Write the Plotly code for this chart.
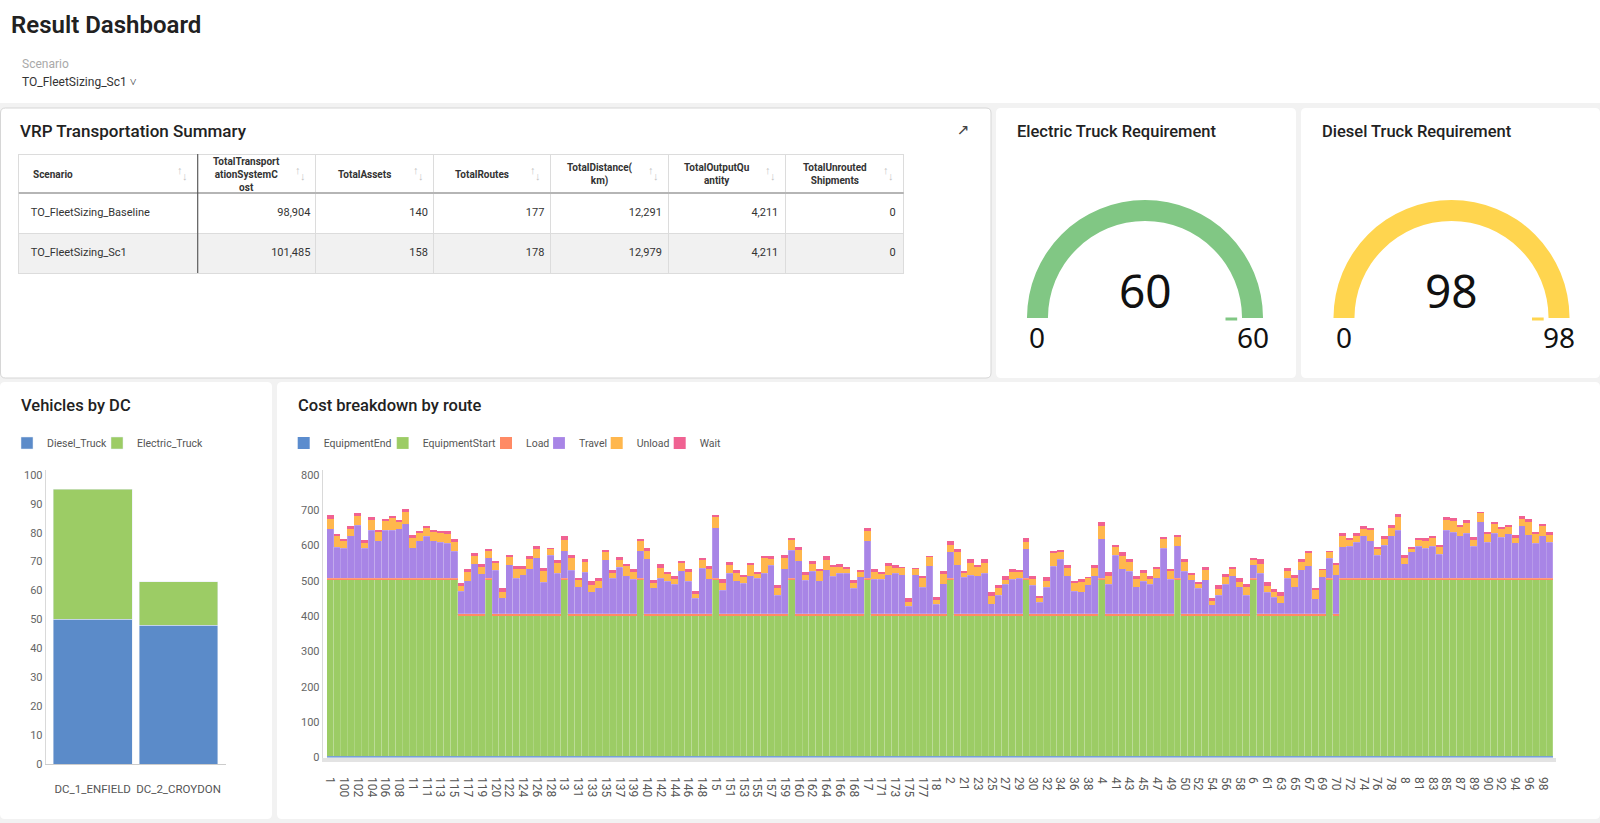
import plotly.graph_objects as go

W, H = 1600, 823


def X(px):
    return px / W


def Y(py):
    return 1 - py / H


# ---------------- data ----------------
table_headers = ["Scenario", "TotalTransport<br>ationSystemC<br>ost", "TotalAssets", "TotalRoutes",
                 "TotalDistance(<br>km)", "TotalOutputQu<br>antity", "TotalUnrouted<br>Shipments"]
scenarios = ["TO_FleetSizing_Baseline", "TO_FleetSizing_Sc1"]
total_cost = [98904, 101485]
total_assets = [140, 158]
total_routes = [177, 178]
total_distance = [12291, 12979]
total_output_qty = [4211, 4211]
total_unrouted = [0, 0]

electric_trucks = 60
diesel_trucks = 98

dcs = ["DC_1_ENFIELD", "DC_2_CROYDON"]
dc_diesel = [50, 48]
dc_electric = [45, 15]

routes = ["1", "10", "100", "101", "102", "103", "104", "105", "106", "107", "108", "109", "11", "110", "111",
          "112", "113", "114", "115", "116", "117", "118", "119", "12", "120", "121", "122", "123", "124", "125",
          "126", "127", "128", "129", "13", "130", "131", "132", "133", "134", "135", "136", "137", "138", "139",
          "14", "140", "141", "142", "143", "144", "145", "146", "147", "148", "149", "15", "150", "151", "152",
          "153", "154", "155", "156", "157", "158", "159", "16", "160", "161", "162", "163", "164", "165", "166",
          "167", "168", "169", "17", "170", "171", "172", "173", "174", "175", "176", "177", "178", "18", "19",
          "2", "20", "21", "22", "23", "24", "25", "26", "27", "28", "29", "3", "30", "31", "32", "33", "34",
          "35", "36", "37", "38", "39", "4", "40", "41", "42", "43", "44", "45", "46", "47", "48", "49", "5",
          "50", "51", "52", "53", "54", "55", "56", "57", "58", "59", "6", "60", "61", "62", "63", "64", "65",
          "66", "67", "68", "69", "7", "70", "71", "72", "73", "74", "75", "76", "77", "78", "79", "8", "80",
          "81", "82", "83", "84", "85", "86", "87", "88", "89", "9", "90", "91", "92", "93", "94", "95", "96",
          "97", "98", "99"]

equipment_end = [3, 3, 3, 3, 3, 3, 3, 3, 3, 3, 3, 3, 3, 3, 3, 3, 3, 3, 3, 3, 3, 3, 3, 3, 3, 3, 3, 3, 3, 3,
                 3, 3, 3, 3, 3, 3, 3, 3, 3, 3, 3, 3, 3, 3, 3, 3, 3, 3, 3, 3, 3, 3, 3, 3, 3, 3, 3, 3, 3, 3,
                 3, 3, 3, 3, 3, 3, 3, 3, 3, 3, 3, 3, 3, 3, 3, 3, 3, 3, 3, 3, 3, 3, 3, 3, 3, 3, 3, 3, 3, 3,
                 3, 3, 3, 3, 3, 3, 3, 3, 3, 3, 3, 3, 3, 3, 3, 3, 3, 3, 3, 3, 3, 3, 3, 3, 3, 3, 3, 3, 3, 3,
                 3, 3, 3, 3, 3, 3, 3, 3, 3, 3, 3, 3, 3, 3, 3, 3, 3, 3, 3, 3, 3, 3, 3, 3, 3, 3, 3, 3, 3, 3,
                 3, 3, 3, 3, 3, 3, 3, 3, 3, 3, 3, 3, 3, 3, 3, 3, 3, 3, 3, 3, 3, 3, 3, 3, 3, 3, 3, 3]

equipment_start = [500, 500, 500, 500, 500, 500, 500, 500, 500, 500, 500, 500, 500, 500, 500, 500, 500, 500, 500,
                   400, 400, 400, 400, 500, 400, 400, 400, 400, 400, 400, 400, 400, 400, 400, 500, 400, 400, 400,
                   400, 400, 400, 400, 400, 400, 400, 500, 400, 400, 400, 400, 400, 400, 400, 400, 400, 400, 500,
                   400, 400, 400, 400, 400, 400, 400, 400, 400, 400, 500, 400, 400, 400, 400, 400, 400, 400, 400,
                   400, 400, 500, 400, 400, 400, 400, 400, 400, 400, 400, 400, 400, 400, 500, 400, 400, 400, 400,
                   400, 400, 400, 400, 400, 400, 500, 400, 400, 400, 400, 400, 400, 400, 400, 400, 400, 500, 400,
                   400, 400, 400, 400, 400, 400, 400, 400, 400, 500, 400, 400, 400, 400, 400, 400, 400, 400, 400,
                   400, 500, 400, 400, 400, 400, 400, 400, 400, 400, 400, 400, 500, 400, 500, 500, 500, 500, 500,
                   500, 500, 500, 500, 500, 500, 500, 500, 500, 500, 500, 500, 500, 500, 500, 500, 500, 500, 500,
                   500, 500, 500, 500, 500, 500, 500]

load = [4, 4, 4, 4, 4, 4, 4, 4, 4, 4, 4, 4, 4, 4, 4, 4, 4, 4, 4, 4, 4, 4, 4, 4, 4, 4, 4, 4, 4, 4,
        4, 4, 4, 4, 4, 4, 4, 4, 4, 4, 4, 4, 4, 4, 4, 4, 4, 4, 4, 4, 4, 4, 4, 4, 4, 4, 4, 4, 4, 4,
        4, 4, 4, 4, 4, 4, 4, 4, 4, 4, 4, 4, 4, 4, 4, 4, 4, 4, 4, 4, 4, 4, 4, 4, 4, 4, 4, 4, 4, 4,
        4, 4, 4, 4, 4, 4, 4, 4, 4, 4, 4, 4, 4, 4, 4, 4, 4, 4, 4, 4, 4, 4, 4, 4, 4, 4, 4, 4, 4, 4,
        4, 4, 4, 4, 4, 4, 4, 4, 4, 4, 4, 4, 4, 4, 4, 4, 4, 4, 4, 4, 4, 4, 4, 4, 4, 4, 4, 4, 4, 4,
        4, 4, 4, 4, 4, 4, 4, 4, 4, 4, 4, 4, 4, 4, 4, 4, 4, 4, 4, 4, 4, 4, 4, 4, 4, 4, 4, 4]

travel = [140, 89, 85, 121, 151, 85, 136, 106, 136, 136,
          140, 155, 87, 107, 119, 106, 102, 100, 77, 64,
          94, 142, 113, 58, 123, 46, 139, 100, 111, 127,
          159, 89, 165, 114, 79, 123, 77, 117, 62, 74,
          153, 100, 131, 108, 97, 79, 156, 73, 100, 92,
          84, 122, 92, 44, 129, 99, 144, 66, 114, 94,
          87, 108, 100, 115, 137, 52, 127, 80, 150, 95,
          120, 93, 125, 106, 115, 115, 72, 105, 107, 97,
          97, 111, 115, 111, 21, 111, 75, 136, 27, 85,
          75, 139, 103, 109, 108, 115, 29, 52, 84, 98,
          100, 84, 80, 32, 75, 134, 155, 108, 64, 62,
          82, 108, 113, 83, 165, 128, 120, 77, 92, 84,
          102, 186, 98, 93, 120, 96, 72, 96, 26, 53,
          83, 108, 76, 53, 39, 115, 61, 47, 31, 101,
          76, 125, 136, 42, 105, 57, 110, 90, 91, 103,
          121, 106, 65, 94, 121, 136, 41, 76, 91, 85,
          91, 69, 136, 131, 121, 128, 91, 161, 103, 128,
          116, 126, 101, 149, 124, 100, 121, 103]

unload = [29, 30, 21, 20, 26, 15, 30, 26, 28, 34,
          20, 34, 27, 21, 25, 26, 27, 25, 26, 15,
          24, 21, 19, 20, 23, 15, 24, 27, 16, 29,
          25, 32, 19, 30, 31, 35, 19, 30, 20, 20,
          24, 16, 21, 26, 21, 26, 23, 15, 30, 20,
          15, 21, 26, 12, 24, 27, 31, 22, 25, 22,
          19, 30, 15, 42, 19, 20, 32, 29, 31, 16,
          22, 27, 28, 26, 18, 14, 16, 15, 26, 22,
          18, 25, 14, 19, 11, 16, 26, 25, 11, 27,
          19, 36, 15, 35, 27, 29, 20, 22, 12, 20,
          20, 20, 17, 14, 19, 40, 21, 22, 22, 28,
          20, 21, 35, 25, 26, 36, 29, 20, 22, 15,
          26, 26, 23, 26, 27, 13, 15, 27, 9, 17,
          22, 20, 14, 23, 12, 27, 18, 14, 20, 20,
          24, 24, 35, 25, 20, 19, 29, 31, 18, 18,
          19, 31, 20, 19, 23, 38, 16, 6, 17, 22,
          23, 19, 30, 32, 26, 30, 18, 25, 22, 26,
          26, 21, 14, 20, 38, 25, 29, 21]

wait = [12, 8, 7, 8, 7, 8, 7, 6, 2, 7,
        6, 8, 8, 7, 5, 5, 5, 8, 8, 7,
        8, 9, 8, 6, 3, 12, 2, 7, 8, 7,
        8, 8, 2, 7, 11, 8, 6, 9, 11, 7,
        2, 7, 9, 7, 8, 7, 6, 8, 10, 7,
        7, 7, 8, 9, 3, 8, 6, 10, 7, 7,
        2, 6, 2, 7, 8, 9, 8, 5, 7, 6,
        6, 6, 10, 7, 9, 2, 7, 2, 11, 9,
        2, 8, 9, 2, 12, 2, 7, 2, 9, 10,
        12, 9, 4, 12, 3, 12, 12, 7, 12, 8,
        3, 11, 10, 2, 10, 5, 2, 8, 8, 8,
        2, 9, 11, 9, 2, 11, 5, 10, 10, 7,
        3, 3, 7, 2, 8, 6, 2, 10, 10, 10,
        7, 2, 11, 8, 8, 12, 11, 10, 10, 9,
        10, 5, 6, 7, 1, 1, 5, 8, 6, 7,
        8, 7, 5, 6, 6, 8, 8, 7, 7, 7,
        7, 7, 7, 8, 3, 7, 7, 2, 6, 7,
        4, 5, 9, 8, 5, 6, 2, 7]

# name, values, colour, separator line, legend id, legend text x (px)
cost_series = [
    ("EquipmentEnd", equipment_end, "#5B8CCE", False, "legend", 321.7),
    ("EquipmentStart", equipment_start, "#9CCC65", True, "legend3", 420.7),
    ("Load", load, "#FF8A65", False, "legend4", 524),
    ("Travel", travel, "#A885E6", True, "legend5", 577),
    ("Unload", unload, "#FFB74D", False, "legend6", 634.7),
    ("Wait", wait, "#F06292", False, "legend7", 697.7),
]
dc_series = [
    ("Diesel_Truck", dc_diesel, "#5B8BC9", "legend2", 45),
    ("Electric_Truck", dc_electric, "#9CCC65", "legend8", 135),
]

FONT = "Roboto"
fig = go.Figure()

# ---------------- cost breakdown (xaxis / yaxis) ----------------
for name, vals, col, sep, lg, _ in cost_series:
    line = dict(color="rgba(255,255,255,0.35)", width=0.5) if sep else dict(width=0)
    fig.add_trace(go.Bar(
        x=routes, y=vals, name=name, marker=dict(color=col, line=line),
        width=1, xaxis="x", yaxis="y", legend=lg))

# ---------------- vehicles by DC (xaxis2 / yaxis2) ----------------
for name, vals, col, lg, _ in dc_series:
    fig.add_trace(go.Bar(x=dcs, y=vals, name=name, marker=dict(color=col), width=0.917,
                         xaxis="x2", yaxis="y2", legend=lg))


# ---------------- table ----------------
def fmt(v):
    return f"{v:,}"


col_widths = [179, 118, 118, 117, 118, 117, 118]
tbl_left, tbl_top = 18.75, 154
hdr_h, row_h = 39, 40
tbl_right = tbl_left + sum(col_widths)
tbl_bottom = tbl_top + hdr_h + 2 * row_h
cell_values = [scenarios, [fmt(v) for v in total_cost], [fmt(v) for v in total_assets],
               [fmt(v) for v in total_routes], [fmt(v) for v in total_distance],
               [fmt(v) for v in total_output_qty], [fmt(v) for v in total_unrouted]]
empty_cells = [["", ""] for _ in cell_values]

# grid + row fills
fig.add_trace(go.Table(
    domain=dict(x=[X(tbl_left), X(tbl_right)], y=[Y(tbl_bottom + 1), Y(tbl_top)]),
    columnwidth=col_widths,
    header=dict(values=[""] * 7, fill_color="white", line=dict(color="#dcdcdc", width=1), height=hdr_h),
    cells=dict(values=empty_cells, fill_color=[["white", "#f1f1f1"]] * 7,
               line=dict(color="#dcdcdc", width=1), height=row_h),
))
# cell text (vertically centred inside the grid rows)
text_shift = 7
fig.add_trace(go.Table(
    domain=dict(x=[X(tbl_left + 4), X(tbl_right)], y=[Y(tbl_bottom + text_shift + 4), Y(tbl_top + text_shift)]),
    columnwidth=col_widths,
    header=dict(values=[""] * 7, fill_color="rgba(0,0,0,0)", line=dict(color="rgba(0,0,0,0)", width=0),
                height=hdr_h),
    cells=dict(values=cell_values, align=["left"] + ["right"] * 6,
               font=dict(family=FONT, size=11, color="#333333"),
               fill_color="rgba(0,0,0,0)", line=dict(color="rgba(0,0,0,0)", width=0), height=row_h),
))

# ---------------- gauges ----------------
R = 122.9
gauge_base = 318
gauges = [(electric_trucks, "#81C784", 1145), (diesel_trucks, "#FFD54F", 1451.5)]
for val, col, cx in gauges:
    fig.add_trace(go.Indicator(
        mode="gauge", value=val,
        domain=dict(x=[X(cx - R), X(cx + R)], y=[Y(gauge_base), Y(gauge_base - R)]),
        gauge=dict(shape="angular", axis=dict(range=[0, val], visible=False),
                   bar=dict(color=col, thickness=0.683, line=dict(width=0)),
                   bgcolor="rgba(0,0,0,0)", borderwidth=0)))

# ---------------- layout ----------------
shapes = []


def rrect(x0, y0, x1, y1, r, fill, line_color=None, lw=0):
    rx, ry = r / W, r / H
    a0, b0, a1, b1 = X(x0), Y(y0), X(x1), Y(y1)
    path = (f"M{a0 + rx},{b0} L{a1 - rx},{b0} Q{a1},{b0} {a1},{b0 - ry} "
            f"L{a1},{b1 + ry} Q{a1},{b1} {a1 - rx},{b1} L{a0 + rx},{b1} Q{a0},{b1} {a0},{b1 + ry} "
            f"L{a0},{b0 - ry} Q{a0},{b0} {a0 + rx},{b0} Z")
    return dict(type="path", path=path, xref="paper", yref="paper", fillcolor=fill,
                line=dict(color=line_color or fill, width=lw), layer="below")


shapes.append(dict(type="rect", xref="paper", yref="paper", x0=0, x1=1, y0=Y(103), y1=1,
                   fillcolor="white", line=dict(width=0), layer="below"))
shapes.append(rrect(0.5, 108, 991, 378, 5, "white", "#d6d6d6", 1))
shapes.append(rrect(996, 108, 1296, 378, 5, "white"))
shapes.append(rrect(1301, 108, 1600, 378, 5, "white"))
shapes.append(rrect(0, 382, 272, 819, 5, "white"))
shapes.append(rrect(277, 382, 1600, 819, 5, "white"))

# table decorations
col_edges = [tbl_left]
for w_ in col_widths:
    col_edges.append(col_edges[-1] + w_)
shapes.append(dict(type="line", xref="paper", yref="paper", x0=X(tbl_left), x1=X(tbl_right),
                   y0=Y(tbl_top + hdr_h), y1=Y(tbl_top + hdr_h), line=dict(color="#b5b5b5", width=2),
                   layer="above"))
shapes.append(dict(type="line", xref="paper", yref="paper", x0=X(col_edges[1]), x1=X(col_edges[1]),
                   y0=Y(tbl_top), y1=Y(tbl_bottom), line=dict(color="#444444", width=1), layer="above"))

# gauge target dashes
for val, col, cx in gauges:
    shapes.append(dict(type="line", xref="paper", yref="paper", x0=X(cx + 0.655 * R), x1=X(cx + 0.75 * R),
                       y0=Y(gauge_base + 1), y1=Y(gauge_base + 1), line=dict(color=col, width=3)))

annotations = []


def txt(x, y, s, size, color="#222222", weight=None, xanchor="left", family=FONT, align="left"):
    f = dict(family=family, size=size, color=color)
    if weight:
        f["weight"] = weight
    annotations.append(dict(x=X(x), y=Y(y), xref="paper", yref="paper", text=s, showarrow=False,
                            xanchor=xanchor, yanchor="middle", font=f, align=align))


txt(9, 25, "Result Dashboard", 24, "#212121", weight=600)
txt(20, 64, "Scenario", 12, "#a9a9a9")
txt(20, 82, "TO_FleetSizing_Sc1 ˅", 12, "#333333")
txt(18, 131, "VRP Transportation Summary", 17, "#222222", weight=500)
txt(963, 130, "↗", 15, "#444444", xanchor="center", family="DejaVu Sans")
txt(1015, 131, "Electric Truck Requirement", 16.5, "#222222", weight=500)
txt(1320, 131, "Diesel Truck Requirement", 16.5, "#222222", weight=500)
txt(19, 405, "Vehicles by DC", 16.5, "#222222", weight=500)
txt(296, 405, "Cost breakdown by route", 16.5, "#222222", weight=500)

# table header labels + sort icons
hdr_mid = tbl_top + hdr_h / 2 + 0.5
for i, h in enumerate(table_headers):
    left, right = col_edges[i], col_edges[i + 1]
    if i == 0:
        txt(left + 12.5, hdr_mid, f"<b>{h}</b>", 10, "#333333")
    else:
        txt((left + right - 20) / 2, hdr_mid, f"<b>{h}</b>", 10, "#333333", xanchor="center", align="center")
    xr = right - 15
    txt(xr - 2.5, hdr_mid - 3, "↑", 11, "#c4c4c4", xanchor="center")
    txt(xr + 2.5, hdr_mid + 3, "↓", 11, "#c4c4c4", xanchor="center")

mid = 0.875 * R
for val, col, cx in gauges:
    txt(cx, 290, f"{val}", 46, "#111111", xanchor="center", family="Noto Sans")
    txt(cx - mid, 337, "0", 28, "#111111", xanchor="center", family="Noto Sans")
    txt(cx + mid, 337, f"{val}", 28, "#111111", xanchor="center", family="Noto Sans")

legends = {}
for name, vals, col, sep, lg, tx in cost_series:
    legends[lg] = dict(orientation="h", x=X(tx - 38), y=Y(443), xanchor="left", yanchor="middle",
                       font=dict(family=FONT, size=10.5, color="#555555"), bgcolor="rgba(0,0,0,0)",
                       itemwidth=30)
for name, vals, col, lg, tx in dc_series:
    legends[lg] = dict(orientation="h", x=X(tx - 38), y=Y(443), xanchor="left", yanchor="middle",
                       font=dict(family=FONT, size=10.5, color="#555555"), bgcolor="rgba(0,0,0,0)",
                       itemwidth=30)

cost_x0, cost_x1 = 322.7, 1556
fig.update_layout(
    width=W, height=H, margin=dict(l=0, r=0, t=0, b=0, autoexpand=False),
    paper_bgcolor="#f2f2f2", plot_bgcolor="white",
    barmode="stack", showlegend=True,
    shapes=shapes, annotations=annotations,
    xaxis=dict(domain=[X(cost_x0), X(cost_x1)], type="category", range=[-1.08, 177.94],
               tickmode="array", tickvals=routes[::2], tickangle=90,
               tickfont=dict(family=FONT, size=12, color="#555555"), ticklabelstandoff=13,
               showline=True, linecolor="#e3e3e3", linewidth=4, showgrid=False, ticks="",
               layer="below traces", fixedrange=True, automargin=False),
    yaxis=dict(domain=[Y(757.5), Y(470)], range=[0, 814], dtick=100, showgrid=False, zeroline=False,
               showline=True, linecolor="#d9d9d9", linewidth=1, ticks="",
               tickfont=dict(family=FONT, size=11, color="#666666"), fixedrange=True, automargin=False),
    xaxis2=dict(domain=[X(45.7), X(225.7)], anchor="y2", type="category", range=[-0.548, 1.55],
                tickfont=dict(family=FONT, size=11.5, color="#555555"), ticklabelstandoff=14,
                showline=True, linecolor="#cccccc", showgrid=False, ticks="", fixedrange=True,
                automargin=False),
    yaxis2=dict(domain=[Y(764), Y(470)], anchor="x2", range=[0, 101.7], dtick=10, showgrid=False,
                zeroline=False, showline=True, linecolor="#d9d9d9", ticks="",
                tickfont=dict(family=FONT, size=11, color="#666666"), fixedrange=True, automargin=False),
    **legends,
)

fig.write_html("out.html")
